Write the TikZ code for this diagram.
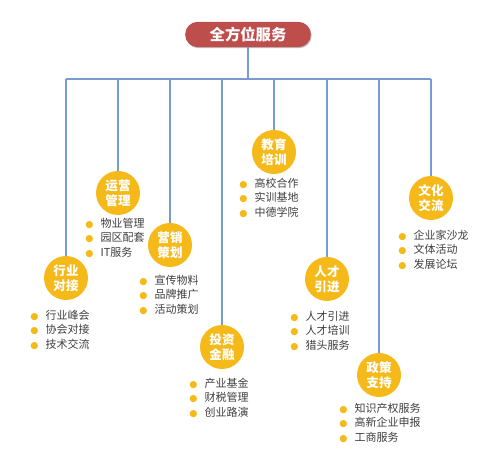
\documentclass[tikz,border=0pt]{standalone}
\usepackage{fontspec}
\setmainfont{Noto Sans CJK SC}
\newfontfamily\dejavu{DejaVu Sans}
\usepackage{xcolor}
\usetikzlibrary{shapes,shadows,positioning}
\definecolor{hubred}{RGB}{190, 78, 76}
\definecolor{ringgold}{RGB}{245, 185, 25}
\definecolor{linkblue}{RGB}{122, 155, 205}
\definecolor{itemgray}{RGB}{62, 62, 62}
\newcommand{\dotb}{{\color{ringgold}\dejavu\fontsize{7}{7}\selectfont ●}\hspace{5.4pt}}

\begin{document}
\begin{tikzpicture}[x=0.75pt, y=-0.75pt,
    hub/.style={rounded rectangle, fill=hubred, text=white, minimum width=101pt, minimum height=19pt, font=\fontsize{11.5}{12}\selectfont\bfseries, drop shadow={shadow xshift=0.6pt, shadow yshift=-0.8pt, opacity=0.25, fill=black}},
    ring/.style={circle, fill=ringgold, text=white, minimum size=33pt, inner sep=0pt, align=center, font=\fontsize{9.4}{11.2}\selectfont\bfseries},
    items/.style={anchor=north west, inner sep=0pt, align=left, text=itemgray, font=\fontsize{8.25}{10.9}\selectfont},
    link/.style={draw=linkblue, line width=0.9pt}
]
\useasboundingbox (0,0) rectangle (500,459);

% Nodes
\node[hub] (top) at (248,34.5) {全方位服务};
\coordinate (bus) at (248,79);

\node[ring] (ind) at (66,278) {行业\\对接};
\node[ring] (ops) at (118,193) {运营\\管理};
\node[ring] (mkt) at (170,245) {营销\\策划};
\node[ring] (fin) at (222,347) {投资\\金融};
\node[ring] (edu) at (274,152) {教育\\培训};
\node[ring] (tal) at (327,279) {人才\\引进};
\node[ring] (pol) at (379,375) {政策\\支持};
\node[ring] (cul) at (431,198) {文化\\交流};

\node[items] (indlist) at (30,309.5) {\dotb 行业峰会\\\dotb 协会对接\\\dotb 技术交流};
\node[items] (opslist) at (85,217.5) {\dotb 物业管理\\\dotb 园区配套\\\dotb IT服务};
\node[items] (mktlist) at (139,274.5) {\dotb 宣传物料\\\dotb 品牌推广\\\dotb 活动策划};
\node[items] (finlist) at (189,377.5) {\dotb 产业基金\\\dotb 财税管理\\\dotb 创业路演};
\node[items] (edulist) at (239,177.5) {\dotb 高校合作\\\dotb 实训基地\\\dotb 中德学院};
\node[items] (tallist) at (290,310.5) {\dotb 人才引进\\\dotb 人才培训\\\dotb 猎头服务};
\node[items] (pollist) at (339,402.5) {\dotb 知识产权服务\\\dotb 高新企业申报\\\dotb 工商服务};
\node[items] (cullist) at (398,229.5) {\dotb 企业家沙龙\\\dotb 文体活动\\\dotb 发展论坛};

% Links
\draw[link] (top.south) -- (bus);
\draw[link] (ind.north |- bus) -- (cul.north |- bus);
\foreach \n in {ind,ops,mkt,fin,edu,tal,pol,cul}
    \draw[link] (\n.north) -- (\n.north |- bus);
\end{tikzpicture}
\end{document}
